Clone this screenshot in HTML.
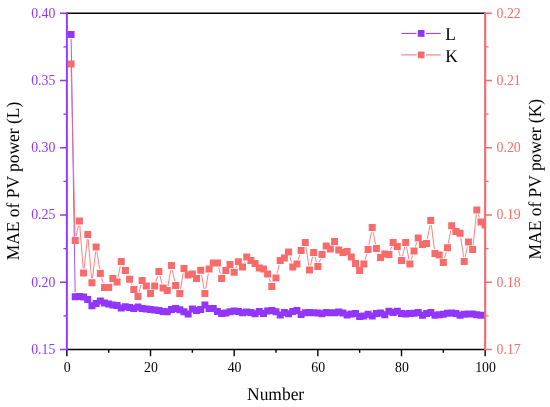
<!DOCTYPE html>
<html lang="en">
<head>
<meta charset="utf-8">
<title>MAE of PV power</title>
<style>
html,body{margin:0;padding:0;background:#fff;}
body{width:550px;height:407px;position:relative;overflow:hidden;font-family:"Liberation Serif","Times New Roman",serif;}
</style>
</head>
<body>
<svg width="550" height="407" viewBox="0 0 550 407" style="position:absolute;left:0;top:0">
<rect width="550" height="407" fill="#fff"/>
<clipPath id="plot"><rect x="66.86" y="13.25" width="418.29" height="336.20"/></clipPath>
<g clip-path="url(#plot)">
<path d="M71.12 39.00L75.15 292.20" stroke="#9235ff" stroke-width="0.85" fill="none"/>
<path d="M67.54 30.90h7.0v7.0h-7.0zM71.73 293.30h7.0v7.0h-7.0zM75.91 293.00h7.0v7.0h-7.0zM80.09 293.40h7.0v7.0h-7.0zM84.27 295.90h7.0v7.0h-7.0zM88.46 302.30h7.0v7.0h-7.0zM92.64 299.90h7.0v7.0h-7.0zM96.82 297.50h7.0v7.0h-7.0zM101.01 299.40h7.0v7.0h-7.0zM105.19 300.50h7.0v7.0h-7.0zM109.37 301.50h7.0v7.0h-7.0zM113.55 301.90h7.0v7.0h-7.0zM117.74 304.50h7.0v7.0h-7.0zM121.92 303.30h7.0v7.0h-7.0zM126.10 303.90h7.0v7.0h-7.0zM130.29 304.90h7.0v7.0h-7.0zM134.47 303.50h7.0v7.0h-7.0zM138.65 304.90h7.0v7.0h-7.0zM142.84 305.50h7.0v7.0h-7.0zM147.02 305.90h7.0v7.0h-7.0zM151.20 306.50h7.0v7.0h-7.0zM155.38 307.10h7.0v7.0h-7.0zM159.57 307.90h7.0v7.0h-7.0zM163.75 308.30h7.0v7.0h-7.0zM167.93 305.90h7.0v7.0h-7.0zM172.12 305.00h7.0v7.0h-7.0zM176.30 306.30h7.0v7.0h-7.0zM180.48 308.30h7.0v7.0h-7.0zM184.66 310.50h7.0v7.0h-7.0zM188.85 305.50h7.0v7.0h-7.0zM193.03 306.90h7.0v7.0h-7.0zM197.21 305.90h7.0v7.0h-7.0zM201.40 301.50h7.0v7.0h-7.0zM205.58 304.90h7.0v7.0h-7.0zM209.76 304.90h7.0v7.0h-7.0zM213.94 307.90h7.0v7.0h-7.0zM218.13 309.90h7.0v7.0h-7.0zM222.31 309.50h7.0v7.0h-7.0zM226.49 308.30h7.0v7.0h-7.0zM230.68 307.50h7.0v7.0h-7.0zM234.86 307.90h7.0v7.0h-7.0zM239.04 309.30h7.0v7.0h-7.0zM243.22 308.50h7.0v7.0h-7.0zM247.41 308.90h7.0v7.0h-7.0zM251.59 310.30h7.0v7.0h-7.0zM255.77 307.90h7.0v7.0h-7.0zM259.96 309.90h7.0v7.0h-7.0zM264.14 307.50h7.0v7.0h-7.0zM268.32 306.90h7.0v7.0h-7.0zM272.50 308.30h7.0v7.0h-7.0zM276.69 311.50h7.0v7.0h-7.0zM280.87 309.10h7.0v7.0h-7.0zM285.05 310.30h7.0v7.0h-7.0zM289.24 307.90h7.0v7.0h-7.0zM293.42 306.90h7.0v7.0h-7.0zM297.60 310.90h7.0v7.0h-7.0zM301.79 309.30h7.0v7.0h-7.0zM305.97 308.90h7.0v7.0h-7.0zM310.15 309.30h7.0v7.0h-7.0zM314.33 309.50h7.0v7.0h-7.0zM318.52 310.30h7.0v7.0h-7.0zM322.70 308.90h7.0v7.0h-7.0zM326.88 309.30h7.0v7.0h-7.0zM331.07 309.30h7.0v7.0h-7.0zM335.25 308.50h7.0v7.0h-7.0zM339.43 309.50h7.0v7.0h-7.0zM343.61 311.50h7.0v7.0h-7.0zM347.80 310.50h7.0v7.0h-7.0zM351.98 309.90h7.0v7.0h-7.0zM356.16 312.90h7.0v7.0h-7.0zM360.35 312.50h7.0v7.0h-7.0zM364.53 310.70h7.0v7.0h-7.0zM368.71 312.50h7.0v7.0h-7.0zM372.89 310.10h7.0v7.0h-7.0zM377.08 309.40h7.0v7.0h-7.0zM381.26 311.30h7.0v7.0h-7.0zM385.44 307.80h7.0v7.0h-7.0zM389.63 309.00h7.0v7.0h-7.0zM393.81 307.80h7.0v7.0h-7.0zM397.99 310.10h7.0v7.0h-7.0zM402.17 310.60h7.0v7.0h-7.0zM406.36 310.10h7.0v7.0h-7.0zM410.54 309.70h7.0v7.0h-7.0zM414.72 309.00h7.0v7.0h-7.0zM418.91 311.80h7.0v7.0h-7.0zM423.09 310.10h7.0v7.0h-7.0zM427.27 309.00h7.0v7.0h-7.0zM431.46 311.80h7.0v7.0h-7.0zM435.64 311.30h7.0v7.0h-7.0zM439.82 310.80h7.0v7.0h-7.0zM444.00 309.70h7.0v7.0h-7.0zM448.19 309.40h7.0v7.0h-7.0zM452.37 310.10h7.0v7.0h-7.0zM456.55 311.80h7.0v7.0h-7.0zM460.74 310.80h7.0v7.0h-7.0zM464.92 310.60h7.0v7.0h-7.0zM469.10 310.60h7.0v7.0h-7.0zM473.28 311.30h7.0v7.0h-7.0zM477.47 311.80h7.0v7.0h-7.0zM481.65 311.80h7.0v7.0h-7.0z" fill="#9235ff"/>
<path d="M71.15 68.60L75.12 236.00M76.19 236.10L78.45 225.50M79.78 225.59L83.22 268.41M84.09 268.43L87.28 239.17M88.17 239.18L91.56 278.22M92.49 278.23L95.61 251.57M96.86 251.54L99.60 268.86M101.62 277.81L103.21 283.19M110.59 283.41L110.97 282.59M117.98 277.49L120.31 266.11M123.18 265.77L123.48 266.43M127.43 274.74L127.59 275.06M131.32 283.47L132.07 285.33M139.13 292.15L140.99 285.05M155.98 281.58L157.60 276.02M160.02 276.06L161.93 283.54M168.01 286.06L170.67 270.14M172.37 270.10L174.67 281.10M180.56 288.86L183.22 273.14M201.53 274.73L204.08 288.87M205.67 288.87L208.30 273.53M218.65 267.44L220.42 273.96M235.89 267.93L236.64 266.07M244.32 262.76L244.95 261.24M269.11 278.36L270.35 282.04M277.08 273.53L279.11 265.07M289.79 256.43L291.50 262.57M298.29 259.61L299.73 254.99M305.98 247.15L308.77 265.45M310.53 265.52L312.59 256.88M314.95 256.81L316.53 262.19M319.35 262.26L320.50 258.94M324.03 250.46L324.19 250.14M336.58 245.54L336.74 245.86M365.13 259.58L366.75 254.02M368.89 245.08L371.35 232.12M373.11 232.11L375.50 244.09M378.33 252.77L378.64 253.43M390.46 250.06L391.61 246.74M398.61 250.81L400.19 256.19M402.53 256.12L404.63 247.08M406.56 247.11L408.98 259.49M411.27 259.62L412.63 255.38M415.45 246.62L416.81 242.38M427.41 239.07L429.95 225.13M431.35 225.16L434.38 249.04M444.59 257.98L446.24 252.22M448.36 243.28L450.83 230.32M460.72 237.75L463.57 257.05M465.20 257.10L467.46 246.50M473.08 245.03L476.30 214.57M478.30 214.34L479.45 217.66" stroke="#f96a6a" stroke-width="0.85" fill="none"/>
<path d="M67.54 60.50h7.0v7.0h-7.0zM71.73 237.10h7.0v7.0h-7.0zM75.91 217.50h7.0v7.0h-7.0zM80.09 269.50h7.0v7.0h-7.0zM84.27 231.10h7.0v7.0h-7.0zM88.46 279.30h7.0v7.0h-7.0zM92.64 243.50h7.0v7.0h-7.0zM96.82 269.90h7.0v7.0h-7.0zM101.01 284.10h7.0v7.0h-7.0zM105.19 284.10h7.0v7.0h-7.0zM109.37 274.90h7.0v7.0h-7.0zM113.55 278.50h7.0v7.0h-7.0zM117.74 258.10h7.0v7.0h-7.0zM121.92 267.10h7.0v7.0h-7.0zM126.10 275.70h7.0v7.0h-7.0zM130.29 286.10h7.0v7.0h-7.0zM134.47 293.10h7.0v7.0h-7.0zM138.65 277.10h7.0v7.0h-7.0zM142.84 282.50h7.0v7.0h-7.0zM147.02 289.90h7.0v7.0h-7.0zM151.20 282.50h7.0v7.0h-7.0zM155.38 268.10h7.0v7.0h-7.0zM159.57 284.50h7.0v7.0h-7.0zM163.75 287.10h7.0v7.0h-7.0zM167.93 262.10h7.0v7.0h-7.0zM172.12 282.10h7.0v7.0h-7.0zM176.30 289.90h7.0v7.0h-7.0zM180.48 265.10h7.0v7.0h-7.0zM184.66 271.50h7.0v7.0h-7.0zM188.85 270.50h7.0v7.0h-7.0zM193.03 275.10h7.0v7.0h-7.0zM197.21 266.70h7.0v7.0h-7.0zM201.40 289.90h7.0v7.0h-7.0zM205.58 265.50h7.0v7.0h-7.0zM209.76 259.50h7.0v7.0h-7.0zM213.94 259.50h7.0v7.0h-7.0zM218.13 274.90h7.0v7.0h-7.0zM222.31 266.90h7.0v7.0h-7.0zM226.49 261.10h7.0v7.0h-7.0zM230.68 268.70h7.0v7.0h-7.0zM234.86 258.30h7.0v7.0h-7.0zM239.04 263.50h7.0v7.0h-7.0zM243.22 253.50h7.0v7.0h-7.0zM247.41 257.10h7.0v7.0h-7.0zM251.59 260.10h7.0v7.0h-7.0zM255.77 264.50h7.0v7.0h-7.0zM259.96 265.50h7.0v7.0h-7.0zM264.14 270.50h7.0v7.0h-7.0zM268.32 282.90h7.0v7.0h-7.0zM272.50 274.50h7.0v7.0h-7.0zM276.69 257.10h7.0v7.0h-7.0zM280.87 254.50h7.0v7.0h-7.0zM285.05 248.50h7.0v7.0h-7.0zM289.24 263.50h7.0v7.0h-7.0zM293.42 260.50h7.0v7.0h-7.0zM297.60 247.10h7.0v7.0h-7.0zM301.79 239.10h7.0v7.0h-7.0zM305.97 266.50h7.0v7.0h-7.0zM310.15 248.90h7.0v7.0h-7.0zM314.33 263.10h7.0v7.0h-7.0zM318.52 251.10h7.0v7.0h-7.0zM322.70 242.50h7.0v7.0h-7.0zM326.88 245.50h7.0v7.0h-7.0zM331.07 237.90h7.0v7.0h-7.0zM335.25 246.50h7.0v7.0h-7.0zM339.43 249.10h7.0v7.0h-7.0zM343.61 248.10h7.0v7.0h-7.0zM347.80 253.50h7.0v7.0h-7.0zM351.98 260.10h7.0v7.0h-7.0zM356.16 266.90h7.0v7.0h-7.0zM360.35 260.50h7.0v7.0h-7.0zM364.53 246.10h7.0v7.0h-7.0zM368.71 224.10h7.0v7.0h-7.0zM372.89 245.10h7.0v7.0h-7.0zM377.08 254.10h7.0v7.0h-7.0zM381.26 250.50h7.0v7.0h-7.0zM385.44 250.90h7.0v7.0h-7.0zM389.63 238.90h7.0v7.0h-7.0zM393.81 242.90h7.0v7.0h-7.0zM397.99 257.10h7.0v7.0h-7.0zM402.17 239.10h7.0v7.0h-7.0zM406.36 260.50h7.0v7.0h-7.0zM410.54 247.50h7.0v7.0h-7.0zM414.72 234.50h7.0v7.0h-7.0zM418.91 241.10h7.0v7.0h-7.0zM423.09 240.10h7.0v7.0h-7.0zM427.27 217.10h7.0v7.0h-7.0zM431.46 250.10h7.0v7.0h-7.0zM435.64 251.50h7.0v7.0h-7.0zM439.82 258.90h7.0v7.0h-7.0zM444.00 244.30h7.0v7.0h-7.0zM448.19 222.30h7.0v7.0h-7.0zM452.37 228.10h7.0v7.0h-7.0zM456.55 229.70h7.0v7.0h-7.0zM460.74 258.10h7.0v7.0h-7.0zM464.92 238.50h7.0v7.0h-7.0zM469.10 246.10h7.0v7.0h-7.0zM473.28 206.50h7.0v7.0h-7.0zM477.47 218.50h7.0v7.0h-7.0zM481.65 221.50h7.0v7.0h-7.0z" fill="#f96a6a"/>
</g>
<path d="M66.86 13.25H485.15M66.86 349.45H485.15" stroke="#000" stroke-width="1.5" fill="none"/>
<path d="M66.86 349.45v6.9M108.69 349.45v3.4M150.52 349.45v6.9M192.35 349.45v3.4M234.18 349.45v6.9M276.00 349.45v3.4M317.83 349.45v6.9M359.66 349.45v3.4M401.49 349.45v6.9M443.32 349.45v3.4M485.15 349.45v6.9" stroke="#000" stroke-width="1.4" fill="none"/>
<path d="M66.86 349.45h-6.9M66.86 315.83h-3.4M66.86 282.21h-6.9M66.86 248.59h-3.4M66.86 214.97h-6.9M66.86 181.35h-3.4M66.86 147.73h-6.9M66.86 114.11h-3.4M66.86 80.49h-6.9M66.86 46.87h-3.4M66.86 13.25h-6.9" stroke="#9235ff" stroke-width="1.4" fill="none"/>
<path d="M66.86 12.55V350.15" stroke="#9235ff" stroke-width="1.9" fill="none"/>
<path d="M485.15 349.45h6.8M485.15 315.83h3.4M485.15 282.21h6.8M485.15 248.59h3.4M485.15 214.97h6.8M485.15 181.35h3.4M485.15 147.73h6.8M485.15 114.11h3.4M485.15 80.49h6.8M485.15 46.87h3.4M485.15 13.25h6.8" stroke="#f96a6a" stroke-width="1.4" fill="none"/>
<path d="M485.15 12.55V350.15" stroke="#f96a6a" stroke-width="2.1" fill="none"/>
<g font-family="'Liberation Serif', 'Times New Roman', serif" font-size="13.8">
<text x="55.3" y="353.95" text-anchor="end" fill="#9235ff">0.15</text>
<text x="55.3" y="286.71" text-anchor="end" fill="#9235ff">0.20</text>
<text x="55.3" y="219.47" text-anchor="end" fill="#9235ff">0.25</text>
<text x="55.3" y="152.23" text-anchor="end" fill="#9235ff">0.30</text>
<text x="55.3" y="84.99" text-anchor="end" fill="#9235ff">0.35</text>
<text x="55.3" y="17.75" text-anchor="end" fill="#9235ff">0.40</text>
<text x="496.6" y="353.95" text-anchor="start" fill="#f96a6a">0.17</text>
<text x="496.6" y="286.71" text-anchor="start" fill="#f96a6a">0.18</text>
<text x="496.6" y="219.47" text-anchor="start" fill="#f96a6a">0.19</text>
<text x="496.6" y="152.23" text-anchor="start" fill="#f96a6a">0.20</text>
<text x="496.6" y="84.99" text-anchor="start" fill="#f96a6a">0.21</text>
<text x="496.6" y="17.75" text-anchor="start" fill="#f96a6a">0.22</text>
<text x="67.26" y="372.1" text-anchor="middle" fill="#000">0</text>
<text x="150.92" y="372.1" text-anchor="middle" fill="#000">20</text>
<text x="234.58" y="372.1" text-anchor="middle" fill="#000">40</text>
<text x="318.23" y="372.1" text-anchor="middle" fill="#000">60</text>
<text x="401.89" y="372.1" text-anchor="middle" fill="#000">80</text>
<text x="485.55" y="372.1" text-anchor="middle" fill="#000">100</text>
</g>
<g font-family="'Liberation Serif', 'Times New Roman', serif" font-size="17.45" fill="#000" text-rendering="geometricPrecision">
<text transform="translate(275.6 400.4) scale(1 1.040)" text-anchor="middle">Number</text>
<text transform="translate(19.4 181.0) rotate(-90) scale(1 1.040)" text-anchor="middle">MAE of PV power (L)</text>
<text transform="translate(540.95 179.2) rotate(-90) scale(1 1.040)" text-anchor="middle">MAE of PV power (K)</text>
<text transform="translate(445.3 39.9) scale(1 1.040)">L</text>
<text transform="translate(445.3 61.5) scale(1 1.040)">K</text>
</g>
<path d="M401.4 33.4H416.5M426 33.4H440.8" stroke="#9235ff" stroke-width="1" fill="none"/>
<rect x="417.8" y="30.0" width="6.7" height="6.8" fill="#9235ff"/>
<path d="M401.4 54.9H416.5M426 54.9H440.8" stroke="#f96a6a" stroke-width="1" fill="none"/>
<rect x="417.8" y="51.5" width="6.7" height="6.8" fill="#f96a6a"/>
</svg>
</body>
</html>
